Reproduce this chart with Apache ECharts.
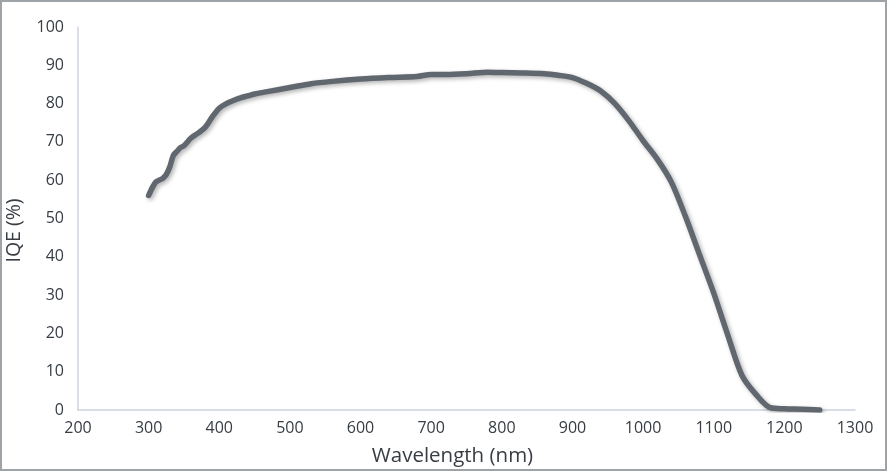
<!DOCTYPE html>
<html>
<head>
<meta charset="utf-8">
<script src="https://cdn.jsdelivr.net/npm/echarts@6/dist/echarts.min.js"></script>
<style>
html,body{margin:0;padding:0;background:#fff;}
#c{width:887px;height:473px;}
</style>
</head>
<body>
<div id="c"></div>
<script>
const wavelength = [300,305,310,315,320,325,330,335,340,345,350,360,370,380,390,400,410,420,430,440,450,470,500,530,560,600,640,680,700,720,750,780,800,830,860,880,900,920,940,960,980,1000,1020,1040,1060,1080,1100,1120,1140,1160,1180,1200,1225,1250];
const iqe = [56,58,59.5,60,60.5,61.5,63.5,66.5,67.5,68.5,69,71,72.3,73.8,76.5,78.8,80,80.8,81.5,82,82.5,83.2,84.2,85.2,85.8,86.4,86.8,87.1,87.6,87.6,87.8,88.2,88.1,88,87.8,87.4,86.8,85.3,83.3,80,75.5,70.3,65.5,59.5,50.5,40.5,30.5,19.5,9,4,0.6,0.3,0.2,0];
const xTicks = [200,300,400,500,600,700,800,900,1000,1100,1200,1300];
const yTicks = [0,10,20,30,40,50,60,70,80,90,100];

const chart = echarts.init(document.getElementById('c'), null, {renderer:'canvas'});
const points = wavelength.map((w,i)=>[w, iqe[i]]);
const font = '"Open Sans", sans-serif';
const txt = '#373d43';
chart.setOption({
  animation:false,
  backgroundColor:'#ffffff',
  graphic:[{type:'rect', shape:{x:1,y:1,width:885,height:469}, style:{fill:'none', stroke:'#9ea3a8', lineWidth:2}, silent:true}],
  grid:{left:78,right:32,top:27,bottom:63,containLabel:false,outerBoundsMode:'none'},
  xAxis:{
    type:'value', min:xTicks[0], max:xTicks[xTicks.length-1], interval:100,
    name:'Wavelength (nm)', nameLocation:'middle', nameGap:36,
    nameTextStyle:{fontFamily:font,fontSize:20.5,fontWeight:500,color:txt,padding:[0,28,0,0]},
    axisLine:{show:true,lineStyle:{color:'#ccd3df',width:1.5}},
    axisTick:{show:false}, splitLine:{show:false},
    axisLabel:{fontFamily:font,fontSize:16,color:txt,margin:10,formatter:v=>String(v)}
  },
  yAxis:{
    type:'value', min:yTicks[0], max:yTicks[yTicks.length-1], interval:10,
    name:'IQE (%)', nameLocation:'middle', nameGap:54, nameRotate:90,
    nameTextStyle:{fontFamily:font,fontSize:19.5,color:txt,padding:[0,24,0,0]},
    axisLine:{show:true,lineStyle:{color:'#ccd3df',width:1.5}},
    axisTick:{show:false}, splitLine:{show:false},
    axisLabel:{fontFamily:font,fontSize:16,color:txt,margin:14,formatter:v=>String(v)}
  },
  series:[{
    type:'line', data:points, smooth:0.3, showSymbol:false,
    lineStyle:{color:'#60676f',width:5.5,cap:'round',join:'round',shadowColor:'rgba(0,0,0,0.3)',shadowBlur:4,shadowOffsetX:2,shadowOffsetY:2}
  }]
});
</script>
</body>
</html>
